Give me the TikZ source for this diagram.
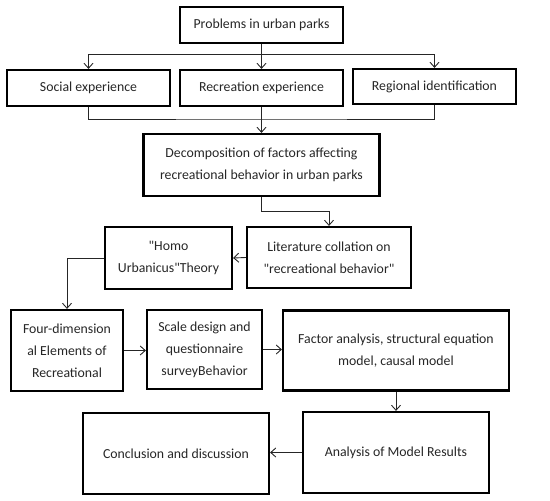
\documentclass[tikz,border=0pt]{standalone}
\usepackage{fontspec}
\setmainfont{Carlito}[Ligatures=TeXOff]
\usetikzlibrary{arrows.meta}
\newcommand{\dq}{\symbol{34}}
\begin{document}
\begin{tikzpicture}[x=1pt,y=-1pt,
  box/.style={draw=black,line width=2.2pt,align=center,inner sep=2pt,
    font=\fontsize{13.8}{22}\selectfont,text=black!85},
  conn/.style={draw=black!85,line width=0.9pt},
  arr/.style={conn,-{Straight Barb[length=5pt,width=9pt,line width=0.9pt]}}]
\useasboundingbox (0,0) rectangle (550,501);
\node[box,minimum width=163pt,minimum height=36pt] (P) at (261.5,25) {Problems in urban parks};
\node[box,minimum width=163pt,minimum height=36pt] (S) at (88.5,88) {Social experience};
\node[box,minimum width=163pt,minimum height=36pt] (R) at (261.5,88) {Recreation experience};
\node[box,minimum width=163pt,minimum height=35pt] (G) at (434.5,86.5) {Regional identification};
\node[box,minimum width=236pt,minimum height=62pt] (D) at (261.5,165) {Decomposition of factors affecting\\recreational behavior in urban parks};
\node[box,minimum width=164pt,minimum height=61pt] (L) at (329,257.5) {Literature collation on\\\dq recreational behavior\dq};
\node[box,minimum width=127pt,minimum height=62pt] (H) at (168.5,258) {\dq Homo\\Urbanicus\dq Theory};
\node[box,minimum width=112pt,minimum height=81pt] (F) at (67,350.5) {Four-dimension\\al Elements of\\Recreational};
\node[box,minimum width=115pt,minimum height=79pt] (Q) at (204.5,349.5) {Scale design and\\questionnaire\\surveyBehavior};
\node[box,minimum width=226pt,minimum height=80pt] (Fa) at (396,350.5) {Factor analysis, structural equation\\model, causal model};
\node[box,minimum width=186pt,minimum height=81pt] (A) at (396,452.5) {Analysis of Model Results};
\node[box,minimum width=186pt,minimum height=81pt] (C) at (176,453.5) {Conclusion and discussion};
\coordinate (b1) at (261.5,54);
\coordinate (m1) at (261.5,119);
\coordinate (c1) at (261.5,211);
\draw[conn] (P.south) -- (b1);
\draw[arr] (b1) -| (S.north);
\draw[arr] (b1) -- (R.north);
\draw[arr] (b1) -| (G.north);
\draw[conn] (S.south) |- (m1) -| (G.south);
\draw[arr] (R.south) -- (D.north);
\draw[arr] (D.south) -- (c1) -| (L.north);
\draw[arr] (L.west) -- (H.east);
\draw[arr] (H.west) -| (F.north);
\draw[arr] (F.east) -- (F.east -| Q.west);
\draw[arr] (Q.east) -- (Q.east -| Fa.west);
\draw[arr] (Fa.south) -- (A.north);
\draw[arr] (A.west) -- (A.west -| C.east);
\end{tikzpicture}
\end{document}
